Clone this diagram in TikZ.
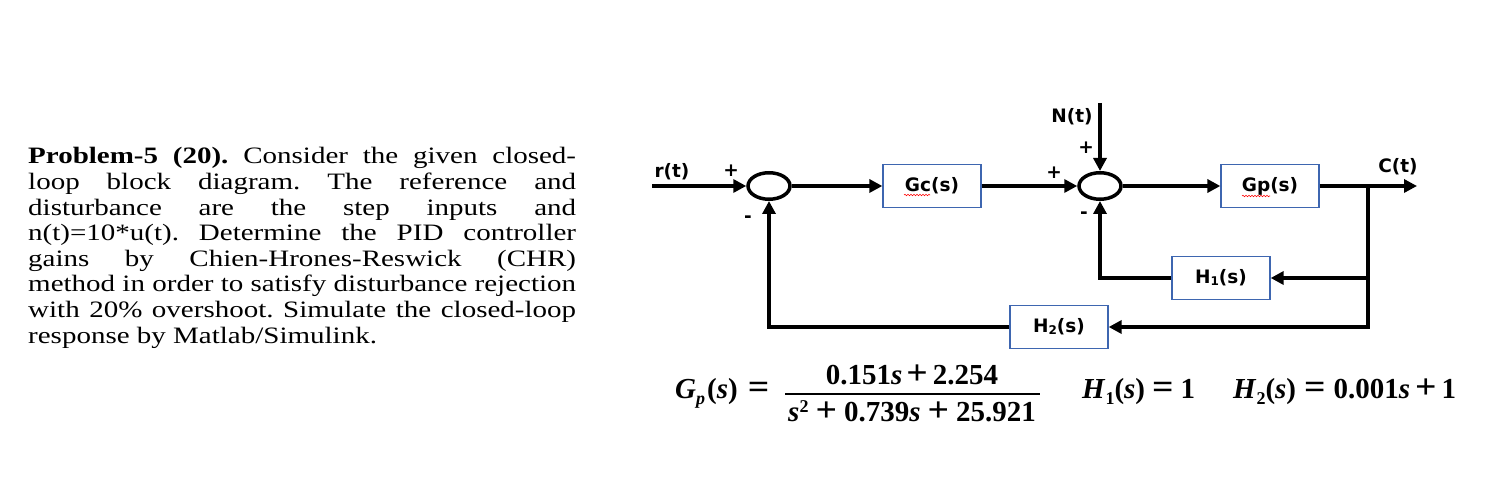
\documentclass[tikz,border=0pt]{standalone}
\usepackage{fontspec}
\usepackage{graphicx}
\setmainfont{Liberation Serif}
\newfontfamily\labelfont{DejaVu Sans}
\usetikzlibrary{arrows.meta,shapes.geometric,decorations.pathmorphing}
\definecolor{boxblue}{RGB}{62,102,176}
\newcommand{\tinysub}[1]{\raisebox{-1.5pt}{\fontsize{12}{12}\selectfont #1}}
\newcommand{\lowsub}[1]{\raisebox{-6pt}{\fontsize{18}{18}\selectfont #1}}
\newcommand{\highsup}[1]{\raisebox{9pt}{\fontsize{18}{18}\selectfont #1}}
\newcommand{\opsym}[1]{\scalebox{1.3}[1.2]{#1}}
\begin{document}
\begin{tikzpicture}[x=1pt,y=-1pt,
        lbl/.style={inner sep=0pt, font=\labelfont\bfseries\fontsize{18.5}{20}\selectfont},
        block/.style={lbl, draw=boxblue, line width=1.3pt, minimum width=98pt, minimum height=43.5pt},
        summer/.style={ellipse, draw, line width=3.5pt, minimum width=42pt, minimum height=26.5pt, inner sep=0pt},
        wire/.style={line width=3.8pt},
        sig/.style={wire, -{Triangle[length=13pt,width=13pt]}},
        spell/.style={red, line width=0.6pt, decorate, decoration={snake, amplitude=0.7pt, segment length=3pt}},
        eq/.style={inner sep=0pt, anchor=base west, font=\bfseries\fontsize{29}{31}\selectfont}]
    \useasboundingbox (0,0) rectangle (1490,502);
    % problem text
    \node[anchor=base west, inner sep=0pt] (task) at (28,164) {\scalebox{1.234}[1]{\begin{minipage}[t]{444pt}
        \fontsize{23.5}{25.6}\selectfont\frenchspacing\tolerance=10000
        \textbf{Problem-5 (20).} Consider the given closed-\linebreak
        loop block diagram. The reference and\linebreak
        disturbance are the step inputs and\linebreak
        n(t)=10*u(t). Determine the PID controller\linebreak
        gains by Chien-Hrones-Reswick (CHR)\linebreak
        method in order to satisfy disturbance rejection\linebreak
        with 20\% overshoot. Simulate the closed-loop\linebreak
        response by Matlab/Simulink.
    \end{minipage}}};
    % blocks and summing points
    \node[summer] (s1) at (769,186) {};
    \node[block] (gc) at (932,186) {Gc(s)};
    \node[summer] (s2) at (1100,186) {};
    \node[block] (gp) at (1270,186) {Gp(s)};
    \node[block] (h1) at (1221,278) {H\tinysub{1}(s)};
    \node[block] (h2) at (1059,327) {H\tinysub{2}(s)};
    \coordinate (rin) at (652,186);
    \coordinate (nin) at (1100,103);
    \coordinate (cout) at (1417,186);
    \coordinate (br) at (1368,186);
    \coordinate (br2) at (1368,327);
    \node[lbl] (rlab) at (672,172) {r(t)};
    \node[lbl] (nlab) at (1072,117) {N(t)};
    \node[lbl] (clab) at (1398,167) {C(t)};
    \foreach \x/\y/\s [count=\i] in {731/171/+, 748/219/-, 1054/173/+, 1086/148/+, 1084/215/-}{
        \node[lbl] (sign\i) at (\x,\y) {\s};
    }
    % signals
    \draw[sig] (rin) -- (s1);
    \draw[sig] (s1) -- (gc);
    \draw[sig] (gc) -- (s2);
    \draw[sig] (nin) -- (s2);
    \draw[sig] (s2) -- (gp);
    \draw[sig] (gp) -- (cout);
    \draw[sig] (br) -- (br2) -- (h2);
    \draw[sig] (br |- h1) -- (h1);
    \draw[sig] (h1) -| (s2);
    \draw[sig] (h2) -| (s1);
    \draw[spell] (904,195) -- (930,195);
    \draw[spell] (1242,196) -- (1270,196);
    % transfer functions
    \node[eq] (gpeq) at (675,398) {\textit{G}\lowsub{\textit{p}}\hspace{2pt}(\textit{s})\hspace{10pt}\opsym{=}};
    \node[eq, anchor=base] (num) at (912,384) {0.151\textit{s}\hspace{4pt}\opsym{+}\hspace{5pt}2.254};
    \node[eq, anchor=base] (den) at (912,421) {\textit{s}\highsup{2}\hspace{7pt}\opsym{+}\hspace{7pt}0.739\textit{s}\hspace{7pt}\opsym{+}\hspace{7pt}25.921};
    \draw[line width=2pt] (785,394) -- (1040,394);
    \node[eq] (h1eq) at (1082,398) {\textit{H}\lowsub{1}(\textit{s})\hspace{7pt}\opsym{=}\hspace{7pt}1};
    \node[eq] (h2eq) at (1233,398) {\textit{H}\lowsub{2}(\textit{s})\hspace{8pt}\opsym{=}\hspace{8pt}0.001\textit{s}\hspace{5pt}\opsym{+}\hspace{5pt}1};
\end{tikzpicture}
\end{document}
